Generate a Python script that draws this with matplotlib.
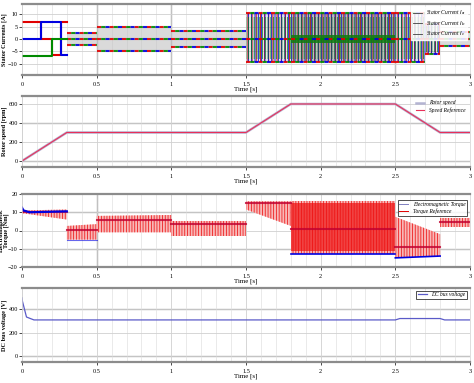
import matplotlib
matplotlib.use("Agg")
import matplotlib.pyplot as plt

plt.rcParams['font.family'] = ['Liberation Serif', 'DejaVu Serif']
plt.rcParams['hatch.linewidth'] = 0.6

# ---- data ----
# time breakpoints of the operating segments [s]
seg_t0 = [0.3, 0.5, 1.0, 1.5, 1.8, 2.5, 2.7, 2.8]
seg_t1 = [0.5, 1.0, 1.5, 1.8, 2.5, 2.7, 2.8, 3.0]

# stator current envelope per segment [A]
cur_hi = [2.5, 4.8, 3.4, 10.6, 10.6, 10.6, 6.0, 3.0]
cur_lo = [-2.5, -4.8, -3.4, -9.4, -9.4, -9.4, -6.0, -3.0]
cur_fast = [False, False, False, True, True, True, True, False]

# start-up (0 - 0.3 s) phase current levels, step-wise [A]
start_t = [0.0, 0.13, 0.2, 0.26, 0.3]
ia_start = [7.0, 0.0, -6.5, 7.0, 7.0]
ib_start = [0.0, 7.0, 7.0, -6.5, -6.5]
ic_start = [-7.0, -7.0, 0.0, 0.0, 0.0]

# speed [rpm]
speed_t = [0.0, 0.3, 1.5, 1.8, 2.5, 2.8, 3.0]
speed_ref = [0, 300, 300, 600, 600, 300, 300]
speed_rotor = [0, 300, 300, 600, 600, 300, 300]

# torque envelope per segment [Nm]
tq_t0 = [0.0, 0.3, 0.5, 1.0, 1.5, 1.8, 2.5, 2.8]
tq_t1 = [0.3, 0.5, 1.0, 1.5, 1.8, 2.5, 2.8, 3.0]
tq_hi0 = [11.0, 2.5, 8.0, 5.0, 16.0, 16.0, 7.5, 7.0]
tq_hi1 = [11.5, 3.5, 8.5, 5.0, 16.0, 16.0, -2.0, 7.0]
tq_lo0 = [9.5, -5.0, -1.0, -3.0, 11.5, -13.0, -15.0, 2.0]
tq_lo1 = [6.0, -5.0, -1.0, -3.0, 2.5, -13.0, -14.0, 2.0]
tq_mid = [10.0, 0.5, 5.5, 3.5, 15.0, 1.0, -9.0, 4.5]
te_start_t = [0.0, 0.01, 0.05, 0.3]
te_start_v = [12.5, 11.0, 10.0, 10.5]

# dc bus voltage [V]
vdc_t = [0.0, 0.003, 0.03, 0.08, 2.5, 2.53, 2.8, 2.83, 3.0]
vdc_v = [500, 470, 335, 310, 310, 322, 322, 310, 310]

xticks = [0, 0.5, 1, 1.5, 2, 2.5, 3]

RED, BLUE, GREEN = '#e00000', '#0000e0', '#008a00'

fig = plt.figure(figsize=(4.74, 3.83), dpi=100)
L, W = 22 / 474, 448 / 474
rects = [(4, 75), (96, 167), (194, 267), (288, 362)]
axes = [fig.add_axes([L, 1 - b / 383, W, (b - t) / 383]) for t, b in rects]


def style(ax, ylim, yticks, ylabel, dark_y=(), dark_x=(), lab_x=-0.033):
    ax.set_xlim(0, 3)
    ax.set_ylim(*ylim)
    ax.set_xticks(xticks)
    ax.set_xticklabels(['0', '0.5', '1', '1.5', '2', '2.5', '3'])
    ax.set_xticks([i / 10 for i in range(31)], minor=True)
    ax.set_yticks(yticks)
    ax.grid(which='minor', color='#e2e2e2', lw=0.5)
    ax.grid(which='major', color='#d0d0d0', lw=0.6)
    for y in dark_y:
        ax.axhline(y, color='#8a8a8a', lw=0.9, zorder=0.5)
    for x in dark_x:
        ax.axvline(x, color='#7a7a7a', lw=0.9, zorder=0.5)
    ax.set_axisbelow(True)
    ax.tick_params(labelsize=4.5, length=2, width=0.5, pad=1, which='major')
    ax.tick_params(axis='x', pad=3)
    ax.tick_params(which='minor', length=0)
    ax.set_xlabel('Time [s]', fontsize=5, labelpad=0)
    ax.set_ylabel(ylabel, fontsize=4.5, fontweight='bold', linespacing=0.95)
    ax.yaxis.set_label_coords(lab_x, 0.5)
    for s in ('top', 'bottom'):
        ax.spines[s].set_color('#8c8c8c')
        ax.spines[s].set_linewidth(1.6)
    for s in ('left', 'right'):
        ax.spines[s].set_color('#d0d0d0')
        ax.spines[s].set_linewidth(0.5)


# ---- panel 1: stator currents ----
ax = axes[0]
for t0, t1, hi, lo, fast in zip(seg_t0, seg_t1, cur_hi, cur_lo, cur_fast):
    if fast:
        ax.fill_between([t0, t1], [lo, lo], [hi, hi], color='#9a9aa0', alpha=0.25, lw=0)
        ax.fill_between([t0, t1], [lo, lo], [hi, hi], facecolor='none', edgecolor=RED,
                        hatch='||||', lw=0)
        ax.fill_between([t0, t1], [lo, lo], [hi, hi], facecolor='none', edgecolor=BLUE,
                        hatch='|||||', lw=0)
        ax.fill_between([t0, t1], [lo * 0.85, lo * 0.85], [hi * 0.85, hi * 0.85],
                        facecolor='none', edgecolor=GREEN, hatch='||||||', lw=0, alpha=0.8)
    else:
        ax.fill_between([t0, t1], [lo, lo], [hi, hi], color='#bdbdbd', alpha=0.55, lw=0)
    for k, c in enumerate((RED, BLUE, GREEN)):
        for lev in (hi, 0, lo):
            ax.plot([t0, t1], [lev, lev], color=c, lw=1.5, alpha=0.9,
                    linestyle=(2 * k, (2, 4)), dash_capstyle='butt')
ax.fill_between([1.8, 2.5], [-1.6, -1.6], [1.6, 1.6], color=GREEN, alpha=0.85, lw=0)
ax.fill_between([1.8, 2.5], [-9.4, -9.4], [10.6, 10.6], color='#405040', alpha=0.25, lw=0)
ax.step(start_t, ia_start, where='post', color=RED, lw=1.5, label='Stator Current $I_a$')
ax.step(start_t, ib_start, where='post', color=BLUE, lw=1.5, label='Stator Current $I_b$')
ax.step(start_t, ic_start, where='post', color=GREEN, lw=1.5, label='Stator Current $I_c$')
style(ax, (-14.6, 14.2), [-10, -5, 0, 5, 10], 'Stator Currents [A]', dark_x=(0.5, 1.0, 2.5))
leg = ax.legend(loc='upper right', frameon=True, handlelength=1.6, borderpad=0.3,
                labelspacing=0.3, fancybox=False, prop={'style': 'italic', 'size': 4})
leg.get_frame().set_edgecolor('#ffffff')
leg.get_frame().set_alpha(0.85)
for h in leg.get_lines():
    h.set_color('#404040')
    h.set_linewidth(0.6)

# ---- panel 2: rotor speed ----
ax = axes[1]
ax.plot(speed_t, speed_rotor, color='#b4b4d2', lw=1.8, label='Rotor speed')
ax.plot(speed_t, speed_ref, color='#e8305a', lw=0.8, label='Speed Reference')
style(ax, (-63, 684), [0, 200, 400, 600], 'Rotor speed [rpm]', dark_y=(0, 400))
ax.legend(loc='upper right', frameon=False, handlelength=1.6, borderpad=0.3,
          labelspacing=0.3, prop={'style': 'italic', 'size': 4})

# ---- panel 3: electromagnetic torque ----
ax = axes[2]
for t0, t1, h0, h1, l0, l1, m in zip(tq_t0, tq_t1, tq_hi0, tq_hi1, tq_lo0, tq_lo1, tq_mid):
    ax.fill_between([t0, t1], [l0, l1], [h0, h1], facecolor='#f8b8b8', edgecolor='#ee2020',
                    hatch='||||||', lw=0)
    ax.plot([t0, t1], [m, m], color='#c00030', lw=1.5, alpha=0.8)
ax.fill_between([1.8, 2.5], [-11, -11], [15, 15], color='#ee1010', alpha=0.7, lw=0)
ax.plot([1.8, 2.5], [-13, -13], color=BLUE, lw=1.2)
ax.plot([2.5, 2.8], [-15, -14], color=BLUE, lw=1.2)
ax.plot(te_start_t, te_start_v, color=BLUE, lw=1.6, label='Electromagnetic Torque')
ax.plot([0.3, 0.5], [-5, -5], color=BLUE, lw=0.8, alpha=0.6)
ax.plot([], [], color=RED, lw=0.8, label='Torque Reference')
style(ax, (-20, 20), [-20, -10, 0, 10, 20], 'Electromagnetic\nTorque [Nm]',
      dark_y=(-10, 10), dark_x=(0.5,), lab_x=-0.029)
leg = ax.legend(loc='upper right', bbox_to_anchor=(1.0, 0.95), handlelength=1.6, borderpad=0.3,
                labelspacing=0.3, fancybox=False, prop={'style': 'italic', 'size': 4})
leg.get_frame().set_edgecolor('#000000')
leg.get_frame().set_linewidth(0.6)
for h, c in zip(leg.get_lines(), ('#8080c0', RED)):
    h.set_color(c)
    h.set_linewidth(0.7)

# ---- panel 4: dc bus voltage ----
ax = axes[3]
ax.plot(vdc_t, vdc_v, color='#5a5ac8', lw=0.9, label='DC bus voltage')
style(ax, (-51, 584), [0, 200, 400], 'DC bus voltage [V]', dark_y=(0, 400))
leg = ax.legend(loc='upper right', handlelength=1.6, borderpad=0.3, fancybox=False,
                prop={'style': 'italic', 'size': 4})
leg.get_frame().set_edgecolor('#000000')
leg.get_frame().set_linewidth(0.6)

fig.savefig('out.png', dpi=100)
